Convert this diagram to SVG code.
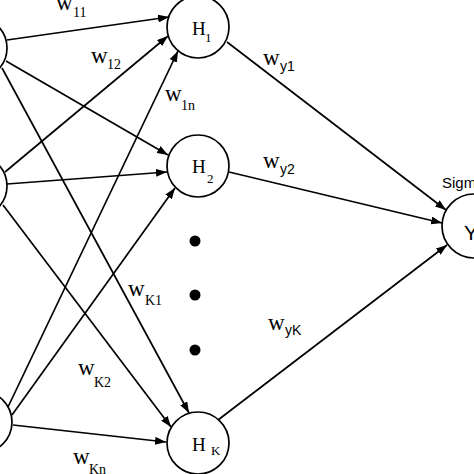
<svg xmlns="http://www.w3.org/2000/svg" width="474" height="474" viewBox="0 0 474 474">
<style>
.node{fill:#fff;stroke:#000;stroke-width:1.7}
.edge{stroke:#000;stroke-width:1.7;fill:none;marker-end:url(#ah)}
.w{font-family:"Liberation Serif",serif;font-size:23px;fill:#000}
.sub{font-family:"Liberation Serif",serif;font-size:14px;fill:#000}
.suby{font-family:"Liberation Sans",sans-serif;font-size:14px;fill:#000}
.h{font-family:"Liberation Serif",serif;font-size:19px;fill:#000}
.hs{font-family:"Liberation Serif",serif;font-size:13px;fill:#000}
.dot{fill:#000}
</style>
<defs>
<marker id="ah" markerWidth="11" markerHeight="8" refX="11" refY="4" orient="auto" markerUnits="userSpaceOnUse">
<path d="M0,0 L11,4 L0,8 z" fill="#000"/>
</marker>
</defs>
<rect width="474" height="474" fill="#fff"/>
<g id="connectors">
<line class="edge" x1="7" y1="40" x2="169" y2="17"/>
<line class="edge" x1="6" y1="61" x2="168" y2="155"/>
<line class="edge" x1="2" y1="68" x2="189" y2="413"/>
<line class="edge" x1="5" y1="172" x2="168" y2="36"/>
<line class="edge" x1="7" y1="184" x2="167" y2="172"/>
<line class="edge" x1="3" y1="205" x2="171" y2="427"/>
<line class="edge" x1="8" y1="407" x2="178" y2="51"/>
<line class="edge" x1="12" y1="415" x2="175" y2="188"/>
<line class="edge" x1="13" y1="425" x2="166" y2="442"/>
<line class="edge" x1="227" y1="42" x2="446" y2="210"/>
<line class="edge" x1="229" y1="172" x2="442" y2="223"/>
<line class="edge" x1="218" y1="420" x2="447" y2="245"/>
</g>
<g id="I1"><circle class="node" cx="-24" cy="48" r="31"/></g>
<g id="I2"><circle class="node" cx="-24" cy="186" r="31"/></g>
<g id="I3"><circle class="node" cx="-19" cy="422" r="31"/></g>
<g id="H1"><circle class="node" cx="198" cy="27" r="31"/><text class="h" x="192" y="35">H</text><text class="hs" x="205" y="42">1</text></g>
<g id="H2"><circle class="node" cx="198" cy="166" r="31"/><text class="h" x="192" y="173">H</text><text class="hs" x="207" y="183">2</text></g>
<g id="HK"><circle class="node" cx="198" cy="443" r="31"/><text class="h" x="192" y="451">H</text><text class="hs" x="211" y="455">K</text></g>
<g id="Y"><circle class="node" cx="474" cy="226" r="32"/><text x="464" y="240" font-family="Liberation Sans,sans-serif" font-size="21">Y</text><text x="442" y="188" font-family="Liberation Sans,sans-serif" font-size="15">Sigmoid</text></g>
<g id="dots"><circle class="dot" cx="195" cy="241" r="5.5"/><circle class="dot" cx="195" cy="295" r="5.5"/><circle class="dot" cx="195" cy="350" r="5.5"/></g>
<g id="labels">
<text class="w" x="56" y="10">w</text><text class="sub" x="73" y="17">11</text>
<text class="w" x="91" y="63">w</text><text class="sub" x="107" y="69">12</text>
<text class="w" x="165" y="101">w</text><text class="sub" x="181" y="110">1n</text>
<text class="w" x="128" y="296">w</text><text class="sub" x="145" y="305">K1</text>
<text class="w" x="78" y="375">w</text><text class="sub" x="94" y="387">K2</text>
<text class="w" x="73" y="464">w</text><text class="sub" x="89" y="474">Kn</text>
<text class="w" x="263" y="65">w</text><text class="suby" x="280" y="71">y1</text>
<text class="w" x="263" y="168">w</text><text class="suby" x="280" y="174">y2</text>
<text class="w" x="268" y="330">w</text><text class="suby" x="285" y="335">yK</text>
</g>
</svg>
